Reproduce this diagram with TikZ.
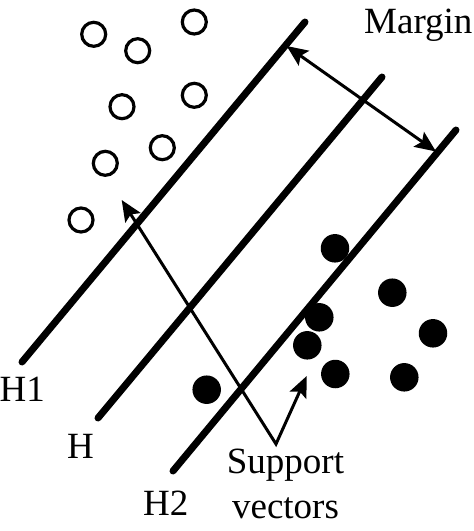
\documentclass[tikz,border=0pt]{standalone}
\usepackage{fontspec}
\setmainfont{Liberation Serif}
\usetikzlibrary{arrows.meta}
\begin{document}
\begin{tikzpicture}[x=1pt,y=-1pt,
  plane/.style={line width=7pt,line cap=round},
  pointer/.style={line width=3pt,line join=miter,{Stealth[length=21pt,width=18pt,inset=4pt]}-{Stealth[length=21pt,width=18pt,inset=4pt]}},
  openpt/.style={circle,draw,line width=3.2pt,minimum size=24pt,inner sep=0pt},
  fullpt/.style={circle,fill,minimum size=28.5pt,inner sep=0pt},
  lbl/.style={font=\fontsize{37}{45}\selectfont,inner sep=0pt,anchor=base west},
  clbl/.style={font=\fontsize{37}{45}\selectfont,inner sep=0pt,anchor=base}]
\useasboundingbox (0,0) rectangle (474,531);
% hyperplanes
\coordinate (h1t) at (305,22);  \coordinate (h1b) at (22,362);
\coordinate (ht)  at (382,77);  \coordinate (hb)  at (98,418);
\coordinate (h2t) at (456,130); \coordinate (h2b) at (173,471);
\draw[plane] (h1t) -- (h1b);
\draw[plane] (ht) -- (hb);
\draw[plane] (h2t) -- (h2b);
% open points
\node[openpt] (o1) at (93.7,34.3) {};
\node[openpt] (o2) at (137.7,50.7) {};
\node[openpt] (o3) at (194.3,22) {};
\node[openpt] (o4) at (122,106.7) {};
\node[openpt] (o5) at (194.3,95.3) {};
\node[openpt] (o6) at (162.3,147.7) {};
\node[openpt] (o7) at (105.3,163.3) {};
\node[openpt] (o8) at (81,220) {};
% filled points
\node[fullpt] (f1) at (335,248.3) {};
\node[fullpt] (f2) at (392.3,292.7) {};
\node[fullpt] (f3) at (319.3,317.3) {};
\node[fullpt] (f4) at (307.3,345.3) {};
\node[fullpt] (f5) at (433,333.3) {};
\node[fullpt] (f6) at (335.3,374) {};
\node[fullpt] (f7) at (404.3,377.3) {};
\node[fullpt] (f8) at (206.7,389.7) {};
% margin arrow
\coordinate (m1) at (286.7,46);
\coordinate (m2) at (436,151.5);
\draw[pointer] (m1) -- (m2);
% support vector arrows
\coordinate (svL) at (121.7,200);
\coordinate (svV) at (276,444);
\coordinate (svR) at (306.7,376);
\draw[pointer] (svL) -- (svV) -- (svR);
% labels
\node[lbl] (margin) at (364,33) {Margin};
\node[lbl] (lh1) at (-0.5,401) {H1};
\node[lbl] (lh) at (67,458) {H};
\node[lbl] (lh2) at (143,515) {H2};
\node[clbl] (sup1) at (285.5,473) {Support};
\node[clbl] (sup2) at (285.5,518) {vectors};
\end{tikzpicture}
\end{document}
